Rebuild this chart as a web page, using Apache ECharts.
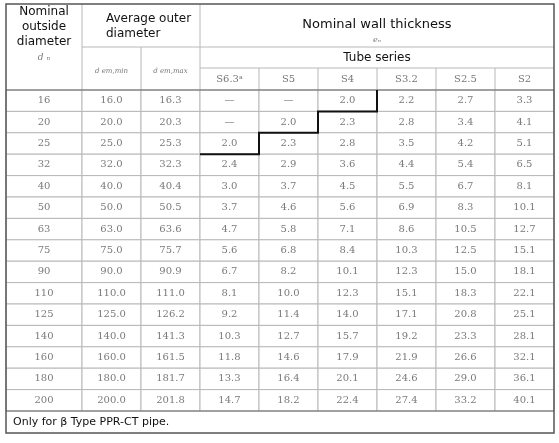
<!DOCTYPE html>
<html>
<head>
<meta charset="utf-8">
<script src="https://cdn.jsdelivr.net/npm/echarts@6/dist/echarts.min.js"></script>
<style>html,body{margin:0;padding:0;background:#fff}#main{width:559px;height:443px}</style>
</head>
<body>
<div id="main"></div>
<script>
// table data
var nominal = ['16', '20', '25', '32', '40', '50', '63', '75', '90', '110', '125', '140', '160', '180', '200'];
var seriesNames = ['S6.3ᵃ', 'S5', 'S4', 'S3.2', 'S2.5', 'S2'];
var demMin = ['16.0', '20.0', '25.0', '32.0', '40.0', '50.0', '63.0', '75.0', '90.0', '110.0', '125.0', '140.0', '160.0', '180.0', '200.0'];
var demMax = ['16.3', '20.3', '25.3', '32.3', '40.4', '50.5', '63.6', '75.7', '90.9', '111.0', '126.2', '141.3', '161.5', '181.7', '201.8'];
var s63 = ['—', '—', '2.0', '2.4', '3.0', '3.7', '4.7', '5.6', '6.7', '8.1', '9.2', '10.3', '11.8', '13.3', '14.7'];
var s5 = ['—', '2.0', '2.3', '2.9', '3.7', '4.6', '5.8', '6.8', '8.2', '10.0', '11.4', '12.7', '14.6', '16.4', '18.2'];
var s4 = ['2.0', '2.3', '2.8', '3.6', '4.5', '5.6', '7.1', '8.4', '10.1', '12.3', '14.0', '15.7', '17.9', '20.1', '22.4'];
var s32 = ['2.2', '2.8', '3.5', '4.4', '5.5', '6.9', '8.6', '10.3', '12.3', '15.1', '17.1', '19.2', '21.9', '24.6', '27.4'];
var s25 = ['2.7', '3.4', '4.2', '5.4', '6.7', '8.3', '10.5', '12.5', '15.0', '18.3', '20.8', '23.3', '26.6', '29.0', '33.2'];
var s2 = ['3.3', '4.1', '5.1', '6.5', '8.1', '10.1', '12.7', '15.1', '18.1', '22.1', '25.1', '28.1', '32.1', '36.1', '40.1'];
var footnote = 'Only for β Type PPR-CT pipe.';

var valueCols = [demMin, demMax, s63, s5, s4, s32, s25, s2];

var cellsLeft = [], cellsRight = [];
for (var r = 0; r < nominal.length; r++) {
    cellsLeft.push([0, r, nominal[r]]);
    for (var c = 0; c < valueCols.length; c++) {
        cellsRight.push([c, r, valueCols[c][r]]);
    }
}

var TOP = 90, BOTTOM = 32, LEFT = 6, SPLIT = 82, RIGHT = 5;
var serif = 'DejaVu Serif';
var sans = 'DejaVu Sans';

// text is read from the source array, api.value() would turn it into a number
function makeRender(cells) {
    return function (params, api) {
        var p = api.coord([api.value(0), api.value(1)]);
        var s = api.size([1, 1]);
        return {
            type: 'group',
            children: [{
                type: 'rect',
                shape: { x: p[0] - s[0] / 2, y: p[1] - s[1] / 2, width: s[0], height: s[1] },
                style: { fill: '#fff', stroke: '#b8b8b8', lineWidth: 1 }
            }, {
                type: 'text',
                style: {
                    x: p[0], y: p[1], text: cells[params.dataIndex][2], align: 'center', verticalAlign: 'middle',
                    font: '10px "' + serif + '"', fill: '#7a7a7a'
                }
            }]
        };
    };
}

var chart = echarts.init(document.getElementById('main'));
var rowAxis = function (idx) {
    return { type: 'category', gridIndex: idx, data: nominal, inverse: true, show: false };
};

chart.setOption({
    animation: false,
    grid: [
        { left: LEFT, width: SPLIT - LEFT, top: TOP, bottom: BOTTOM },
        { left: SPLIT, right: RIGHT, top: TOP, bottom: BOTTOM }
    ],
    xAxis: [
        { type: 'category', gridIndex: 0, data: ['dn'], show: false },
        { type: 'category', gridIndex: 1, data: ['min', 'max'].concat(seriesNames), show: false }
    ],
    yAxis: [rowAxis(0), rowAxis(1)],
    series: [
        { type: 'custom', xAxisIndex: 0, yAxisIndex: 0, data: cellsLeft, renderItem: makeRender(cellsLeft) },
        { type: 'custom', xAxisIndex: 1, yAxisIndex: 1, data: cellsRight, renderItem: makeRender(cellsRight) }
    ]
});

// header, footnote, borders
var W = 559, H = 443;
var x0 = LEFT, x9 = W - RIGHT;
var colW = (x9 - SPLIT) / 8;
var yData = TOP, yEnd = H - BOTTOM;
var rowH = (yEnd - TOP) / nominal.length;
var yFoot = 433;
function cx(i) { return SPLIT + colW * i; }
var thin = { stroke: '#b8b8b8', lineWidth: 1 };
function line(a, b, c, d, st) {
    return { type: 'line', shape: { x1: a, y1: b, x2: c, y2: d }, style: st || thin, z: 5 };
}
function txt(x, y, t, font, fill, align) {
    return { type: 'text', style: { x: x, y: y, text: t, font: font, fill: fill || '#111', align: align || 'center', verticalAlign: 'middle', lineHeight: 15 }, z: 6 };
}
var els = [];
els.push(line(SPLIT, 4, SPLIT, yData));
els.push(line(cx(1), 47, cx(1), yData));
els.push(line(cx(2), 4, cx(2), yData));
els.push(line(SPLIT, 47, cx(2), 47));
els.push(line(cx(2), 47, x9, 47));
els.push(line(cx(2), 68, x9, 68));
for (var i = 3; i < 8; i++) els.push(line(cx(i), 68, cx(i), yData));
els.push(line(x0, yData, x9, yData, { stroke: '#666', lineWidth: 1.2 }));
els.push(line(x0, yEnd, x9, yEnd, { stroke: '#666', lineWidth: 1.2 }));
els.push({ type: 'rect', shape: { x: x0, y: 4, width: x9 - x0, height: yFoot - 4 }, style: { fill: null, stroke: '#555', lineWidth: 1.5 }, z: 7 });
// staircase
els.push({
    type: 'polyline', z: 8,
    shape: { points: [[cx(5), yData], [cx(5), yData + rowH], [cx(4), yData + rowH], [cx(4), yData + 2 * rowH], [cx(3), yData + 2 * rowH], [cx(3), yData + 3 * rowH], [cx(2), yData + 3 * rowH]] },
    style: { fill: null, stroke: '#111', lineWidth: 2 }
});
els.push(txt(44, 27, 'Nominal\noutside\ndiameter', '12px "' + sans + '"', '#111'));
els.push(txt(44, 58, 'd ₙ', 'italic 9px "' + serif + '"', '#777'));
els.push(txt(106, 26, 'Average outer\ndiameter', '12px "' + sans + '"', '#111', 'left'));
els.push(txt(cx(0.5), 71, 'd em,min', 'italic 7px "' + serif + '"', '#777'));
els.push(txt(cx(1.5), 71, 'd em,max', 'italic 7px "' + serif + '"', '#777'));
els.push(txt((cx(2) + x9) / 2, 25, 'Nominal wall thickness', '13px "' + sans + '"', '#111'));
els.push(txt((cx(2) + x9) / 2, 40, 'eₙ', 'italic 8px "' + serif + '"', '#777'));
els.push(txt((cx(2) + x9) / 2, 58, 'Tube series', '12px "' + sans + '"', '#111'));
for (var k = 0; k < seriesNames.length; k++) {
    els.push(txt(cx(2 + k + 0.5), 79, seriesNames[k], '10px "' + serif + '"', '#777'));
}
els.push(txt(13, (yEnd + yFoot) / 2, footnote, '11px "' + sans + '"', '#111', 'left'));
chart.setOption({ graphic: els });
</script>
</body>
</html>
